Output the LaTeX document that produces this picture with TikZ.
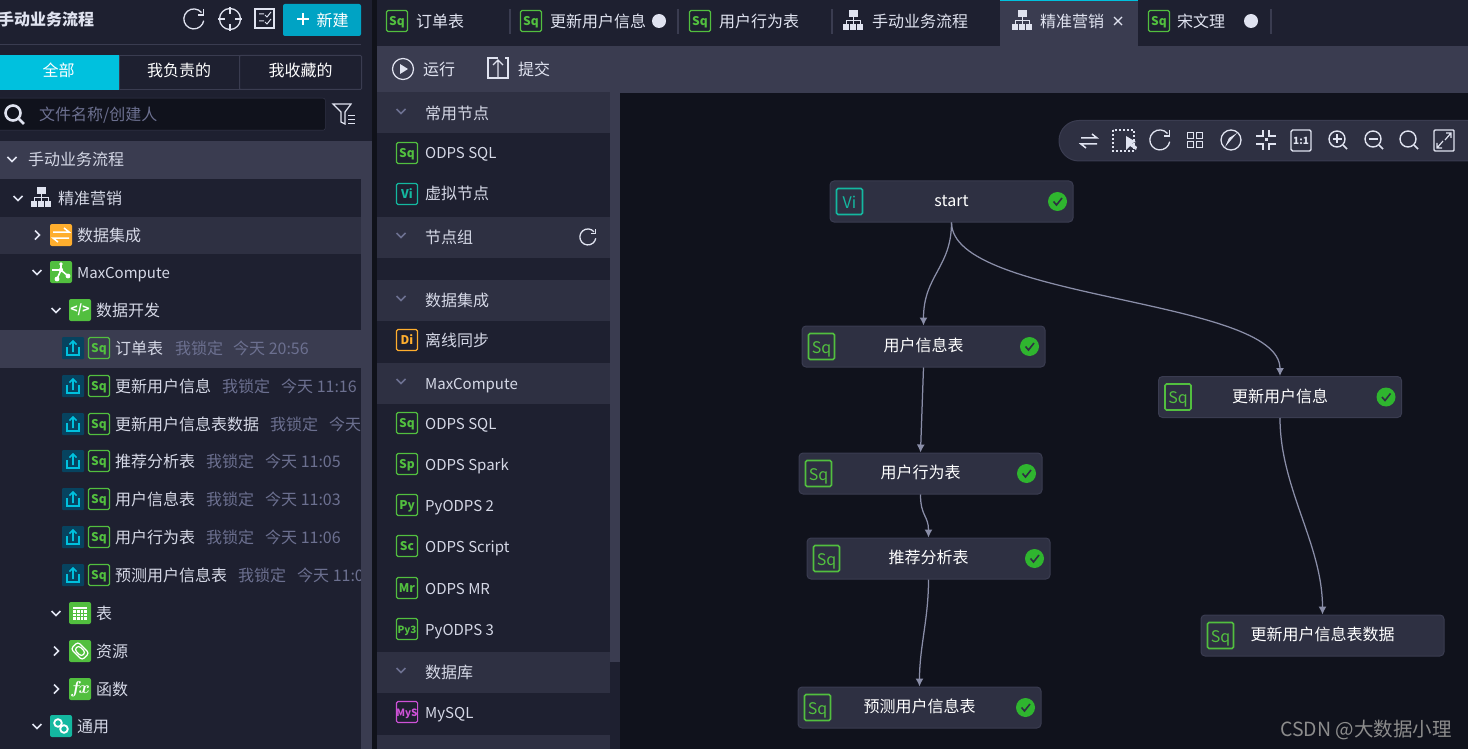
\documentclass[tikz,border=0pt]{standalone}
\usepackage{fontspec}
\setmainfont{Noto Sans CJK SC}
\usetikzlibrary{positioning, arrows.meta}
\definecolor{panelbg}{HTML}{1E2030}
\definecolor{rowbg}{HTML}{2E3042}
\definecolor{barbg}{HTML}{3A3C50}
\definecolor{canvasbg}{HTML}{10121C}
\definecolor{gapbg}{HTML}{10121A}
\definecolor{tabcyan}{HTML}{00C1DE}
\definecolor{btnblue}{HTML}{00A3C4}
\definecolor{iconfg}{HTML}{E0E3F0}
\definecolor{labelfg}{HTML}{D5D8E6}
\definecolor{lockfg}{HTML}{6C7090}
\definecolor{sqgreen}{HTML}{52BF3F}
\definecolor{viteal}{HTML}{14B8A0}
\definecolor{diorange}{HTML}{FFAE2E}
\definecolor{mymagenta}{HTML}{CF52D8}
\definecolor{donegreen}{HTML}{2FB52F}
\definecolor{linkfg}{HTML}{8A8EA8}
\definecolor{upbg}{HTML}{07435F}
\tikzset{
  treelabel/.style={anchor=west, inner sep=0pt, text=labelfg, text height=13pt, text depth=1pt},
  locklabel/.style={anchor=west, inner sep=0pt, text=lockfg, text height=13pt, text depth=1pt},
  tablabel/.style={anchor=west, inner sep=0pt, text=iconfg, text height=14pt, text depth=0pt},
  typeicon/.style={draw=#1, text=#1, line width=1.2pt, rounded corners=1.5pt, minimum size=21pt, inner sep=0pt,
    text height=9pt, text depth=0pt, font=\fontsize{12}{12}\selectfont\bfseries},
  largeicon/.style={line width=1.6pt, minimum size=26pt, text height=13pt, font=\fontsize{16}{16}\selectfont},
  flowbox/.style={draw=barbg, fill=rowbg, rounded corners=4pt, line width=1pt, minimum width=243pt, minimum height=41pt,
    inner sep=0pt, text=white, text height=13pt, text depth=3pt, font=\fontsize{16}{16}\selectfont},
  donemark/.style={circle, fill=donegreen, minimum size=19pt, inner sep=0pt},
  flowline/.style={draw=linkfg, line width=1.25pt, -{Latex[length=8pt,width=8pt]}},
  squarebadge/.style={fill=#1, rounded corners=2pt, minimum size=22pt, inner sep=0pt},
  upbadge/.style={fill=upbg, rounded corners=1pt, minimum size=22pt, inner sep=0pt},
  tabbtn/.style={draw=barbg, line width=1pt, inner sep=0pt, text=white, minimum height=34pt, text height=13pt, text depth=5pt},
  sepline/.style={draw=barbg, line width=1.2pt},
  pics/chevdown/.style={code={\draw[line width=1.5pt] (-4.5,-2) -- (0,2.5) -- (4.5,-2);}},
  pics/chevright/.style={code={\draw[line width=1.5pt] (-2,-4.5) -- (2.5,0) -- (-2,4.5);}},
  pics/refreshpic/.style={code={
    \draw[line width=1.3pt] (7.5,-6.5) arc (-40:-350:10);
    \draw[line width=1.3pt] (9.5,-10) -- (9.5,-4) -- (3.5,-4);}},
  pics/hierpic/.style={code={
    \fill (-4.5,-10) rectangle (4.5,-3);
    \fill (-10,4) rectangle (-4,10); \fill (-3,4) rectangle (3,10); \fill (4,4) rectangle (10,10);
    \draw[line width=1pt] (0,-3) -- (0,4) (-7,4) -- (-7,1) -- (7,1) -- (7,4);}},
  pics/uppic/.style={code={
    \draw[line width=1.6pt] (-6,-1) -- (-6,7) -- (6,7) -- (6,-1);
    \draw[line width=1.6pt] (0,4) -- (0,-7) (-3.5,-3.5) -- (0,-7) -- (3.5,-3.5);}},
  pics/tickpic/.style={code={\draw[line width=1.6pt] (-4,0) -- (-1,3.5) -- (4.5,-3.5);}},
  pics/swappic/.style={code={
    \draw[line width=1.5pt] (-8,-3) -- (8,-3) -- (3,-7);
    \draw[line width=1.5pt] (8,3) -- (-8,3) -- (-3,7);}},
  pics/lenspic/.style={code={
    \draw[line width=1.4pt] (-1,-1) circle (8);
    \draw[line width=1.6pt] (5,5) -- (9,9);}},
}
% latin text is set a little smaller than the chinese
\newcommand{\latintext}[1]{{\fontsize{15}{15}\selectfont #1}}
% one node of the flow with its type icon
\newcommand{\flownode}[6]{
  \node[flowbox] (#1) at (#2,#3) {#6};
  \node[typeicon=#4, largeicon] (#1-icon) at ([xshift=20pt]#1.west) {#5};
}
\newcommand{\flowdone}[1]{
  \node[donemark] (#1-done) at ([xshift=-16pt]#1.east) {};
  \pic[color=rowbg] at (#1-done) {tickpic};
}
\begin{document}
\begin{tikzpicture}[x=1pt, y=-1pt, font=\fontsize{16}{16}\selectfont]
\useasboundingbox (0,0) rectangle (1468,749);
% backgrounds
\fill[panelbg] (0,0) rectangle (372,749);
\fill[gapbg] (372,0) rectangle (377,749);
\fill[panelbg] (377,0) rectangle (1468,46);
\fill[barbg] (377,46) rectangle (1468,93);
\fill[panelbg] (377,93) rectangle (610,749);
\fill[barbg] (610,93) rectangle (620,662);
\fill[panelbg] (610,662) rectangle (620,749);
\fill[canvasbg] (620,93) rectangle (1468,749);
\draw[barbg, line width=1pt] (0,45) -- (361,45);
% left header
\node[tablabel, font=\fontsize{16}{16}\selectfont\bfseries] (flowtitle) at (-2,19) {手动业务流程};
\pic[color=iconfg, scale=1] at (194,19) {refreshpic};
\draw[iconfg, line width=1.3pt] (230,19) circle (10.5);
\draw[iconfg, line width=1.3pt] (230,7) -- (230,14) (230,24) -- (230,31) (218,19) -- (225,19) (235,19) -- (242,19);
\draw[iconfg, line width=1.3pt] (255,9) rectangle (274,28);
\draw[iconfg, line width=1pt] (259,14) -- (264,14) (259,21) -- (264,21) (265,15) -- (267,17) -- (271,12) (265,22) -- (267,24) -- (271,19);
\node[fill=btnblue, rounded corners=2pt, minimum width=78pt, minimum height=32pt, inner sep=0pt, text=white, text height=14pt, text depth=0pt] (newbtn) at (322,20) {\hspace*{21pt}新建};
\draw[white, line width=2pt] (297,19.5) -- (309,19.5) (303,13.5) -- (303,25.5);
% scope tabs
\node[tabbtn, fill=tabcyan, draw=tabcyan, minimum width=122pt, anchor=north west] (taball) at (-3,55) {全部};
\node[tabbtn, minimum width=120pt, anchor=north west] (tabmine) at (118.5,55) {我负责的};
\node[tabbtn, minimum width=122pt, anchor=north west, rounded corners=1pt] (tabfav) at (239,55) {我收藏的};
% search
\node[fill=canvasbg, draw=barbg, rounded corners=2pt, minimum width=327pt, minimum height=32pt, inner sep=0pt, anchor=north west] (searchbox) at (-2,98) {};
\node[locklabel] (searchtext) at (39,114.7) {文件名称/创建人};
\draw[iconfg, line width=2.6pt] (13,113) circle (7.5);
\draw[iconfg, line width=2.6pt] (19,119) -- (24,124);
\draw[iconfg, line width=1.2pt] (333,104) -- (351,104) -- (345,112) -- (345,124) -- (341,122) -- (341,112) -- cycle;
\draw[iconfg, line width=1pt] (348,116) -- (355,116) (348,120) -- (355,120) (348,124) -- (355,124);
% tree
\fill[barbg] (0,141) rectangle (372,179);
\fill[rowbg] (0,217) rectangle (361,254);
\fill[barbg] (0,330) rectangle (361,368);
\pic[color=iconfg] at (12,159) {chevdown};
\node[treelabel] (treeflow) at (28,159.8) {手动业务流程};
\pic[color=iconfg] at (18,198) {chevdown};
\pic[color=iconfg, scale=1] at (41,197) {hierpic};
\node[treelabel] (treeyx) at (58,198.6) {精准营销};
\pic[color=iconfg] at (37,235) {chevright};
\node[squarebadge=diorange] (badgedi) at (61,235) {};
\pic[color=white] at (badgedi) {swappic};
\node[treelabel] (treedi) at (77,235.5) {数据集成};
\pic[color=iconfg] at (37,272) {chevdown};
\node[squarebadge=sqgreen] (badgemc) at (61,272) {};
\draw[white, line width=1.6pt] (57,279) -- (61,270) -- (68,276) (61,270) -- (61,264) (52,270) -- (61,270);
\fill[white] (57,279) circle (2.4) (61,270) circle (2.2) (68,276) circle (2.4) (61,264) circle (1.8);
\node[treelabel] (treemc) at (77,272) {\latintext{MaxCompute}};
\pic[color=iconfg] at (56,310) {chevdown};
\node[squarebadge=sqgreen, text=white, font=\fontsize{12}{12}\selectfont\bfseries] (badgedev) at (80,310) {</>};
\node[treelabel] (treedev) at (96,310) {数据开发};
\begin{scope}
\clip (0,330) rectangle (361,600);
\foreach \rowy/\rowname/\lockx/\whenx/\whentext in {348/订单表/175/233/今天 20:56,386/更新用户信息/222/281/今天 11:16,424/更新用户信息表数据/270/329/今天,461/推荐分析表/206/265/今天 11:05,499/用户信息表/206/265/今天 11:03,537/用户行为表/206/265/今天 11:06,575/预测用户信息表/238/297/今天 11:04}{
  \node[upbadge] (up\rowy) at (73,\rowy) {};
  \pic[color=tabcyan] at (up\rowy) {uppic};
  \node[typeicon=sqgreen] (sq\rowy) at (99,\rowy) {Sq};
  \node[treelabel] (row\rowy) at (115,\rowy) {\rowname};
  \node[locklabel] (lock\rowy) at (\lockx,\rowy) {我锁定};
  \node[locklabel] (when\rowy) at (\whenx,\rowy) {\whentext};
}
\end{scope}
\pic[color=iconfg] at (56,613) {chevdown};
\node[squarebadge=sqgreen] (badgetb) at (80,613) {};
\fill[white] (73,606.5) rectangle (87,620);
\foreach \gx in {76.5,80,83.5}
  \draw[sqgreen, line width=.9pt] (\gx,609) -- (\gx,620);
\foreach \gy in {609.5,613,616.5}
  \draw[sqgreen, line width=.9pt] (73,\gy) -- (87,\gy);
\node[treelabel] (treetb) at (96,613) {表};
\pic[color=iconfg] at (56,651) {chevright};
\node[squarebadge=sqgreen] (badgeres) at (80,651) {};
\draw[white, line width=1.2pt, rotate around={-45:(80,651)}, rounded corners=3pt] (75,648) rectangle (85,654) (72,646) rectangle (88,656);
\node[treelabel] (treeres) at (96,651) {资源};
\pic[color=iconfg] at (56,689) {chevright};
\node[squarebadge=sqgreen, text=white, font=\fontsize{17}{17}\selectfont\boldmath] (badgefx) at (80,689) {$f\!x$};
\node[treelabel] (treefx) at (96,689) {函数};
\pic[color=iconfg] at (37,726) {chevdown};
\node[squarebadge=viteal] (badgecm) at (61,726) {};
\draw[white, line width=1.8pt] (58,723) circle (3.8) (64,729) circle (3.8);
\node[treelabel] (treecm) at (77,726) {通用};
\fill[barbg] (361,179) rectangle (372,749);
% top tabs
\fill[barbg] (1000,0) rectangle (1138,46);
\fill[tabcyan] (1000,0) rectangle (1138,1.2);
\node[typeicon=sqgreen] (tabsq1) at (397,21) {Sq};
\node[tablabel] (tabt1) at (416,21) {订单表};
\draw[sepline] (510,9) -- (510,34);
\node[typeicon=sqgreen] (tabsq2) at (531,21) {Sq};
\node[tablabel] (tabt2) at (550,21) {更新用户信息};
\fill[iconfg] (659,21) circle (7);
\draw[sepline] (678,9) -- (678,34);
\node[typeicon=sqgreen] (tabsq3) at (700,21) {Sq};
\node[tablabel] (tabt3) at (719,21) {用户行为表};
\draw[sepline] (832,9) -- (832,34);
\pic[color=iconfg] at (853,20) {hierpic};
\node[tablabel] (tabt4) at (872,21) {手动业务流程};
\pic[color=iconfg] at (1022,20) {hierpic};
\node[tablabel] (tabt5) at (1040,21) {精准营销};
\draw[iconfg, line width=1.1pt] (1114,17) -- (1122,25) (1122,17) -- (1114,25);
\node[typeicon=sqgreen] (tabsq6) at (1159,21) {Sq};
\node[tablabel] (tabt6) at (1177,21) {宋文理};
\fill[iconfg] (1251,21) circle (7);
\draw[sepline] (1271,9) -- (1271,34);
% run bar
\draw[iconfg, line width=1.2pt] (403,69) circle (10.5);
\fill[iconfg] (400,64) -- (408,69) -- (400,74) -- cycle;
\node[tablabel] (runlabel) at (423,69) {运行};
\draw[iconfg, line width=1.2pt] (498,58) -- (488,58) -- (488,78) -- (508,78) -- (508,58) -- (505,58);
\draw[iconfg, line width=1.2pt] (498,77) -- (498,60) (493,65) -- (498,60) -- (503,65);
\node[tablabel] (submitlabel) at (518,69) {提交};
% node list
\foreach \heady/\headname in {113/常用节点,237/节点组,300/数据集成,383/\latintext{MaxCompute},672/数据库,755/}{
  \fill[rowbg] (377,\heady-20.5) rectangle (610,\heady+20.5);
  \node[treelabel, yshift=-.7pt] (head\heady) at (425,\heady) {\headname};
  \pic[color=lockfg] at (401,\heady-2) {chevdown};
}
\foreach \itemy/\itemcolor/\itemtype/\itemname in {153/sqgreen/Sq/\latintext{ODPS SQL},194/viteal/Vi/虚拟节点,340/diorange/Di/离线同步,423/sqgreen/Sq/\latintext{ODPS SQL},464/sqgreen/Sp/\latintext{ODPS Spark},505/sqgreen/Py/\latintext{PyODPS 2},546/sqgreen/Sc/\latintext{ODPS Script},588/sqgreen/Mr/\latintext{ODPS MR},629/sqgreen/\fontsize{10}{10}\selectfont Py3/\latintext{PyODPS 3},712/mymagenta/\fontsize{10}{10}\selectfont MyS/\latintext{MySQL}}{
  \node[typeicon=\itemcolor] (type\itemy) at (407,\itemy) {\itemtype};
  \node[treelabel] (item\itemy) at (425,\itemy) {\itemname};
}
\pic[color=iconfg, scale=.8] at (588,237) {refreshpic};
% canvas toolbar
\fill[rowbg, rounded corners=20pt] (1059,120.5) rectangle (1520,161);
\draw[barbg, line width=1pt, rounded corners=20pt] (1059,120.5) rectangle (1520,161);
\pic[color=iconfg] at (1089,141) {swappic};
\draw[iconfg, line width=1.2pt, dash pattern=on 2pt off 2pt] (1113,130) rectangle (1134,151);
\fill[iconfg] (1126,136) -- (1126,150) -- (1130,146) -- (1136,150) -- (1137,147) -- (1132,143) -- (1136,142) -- cycle;
\pic[color=iconfg, scale=1] at (1160,140) {refreshpic};
\foreach \cx/\cy in {1190.5/135.5,1199.5/135.5,1190.5/144.5,1199.5/144.5}
  \draw[iconfg, line width=1.3pt] (\cx-2.8,\cy-2.8) rectangle (\cx+2.8,\cy+2.8);
\draw[iconfg, line width=1.3pt] (1231,140) circle (10);
\fill[iconfg] (1237,133) -- (1225,147) -- (1229,138) -- cycle;
\draw[iconfg, line width=1.4pt] (1256,136) -- (1263,136) -- (1263,130) (1276,136) -- (1269,136) -- (1269,130) (1256,144) -- (1263,144) -- (1263,150) (1276,144) -- (1269,144) -- (1269,150);
\fill[iconfg] (1264.5,138.5) rectangle (1267.5,141.5);
\draw[iconfg, line width=1.4pt, rounded corners=1.5pt] (1291,130) rectangle (1311,151);
\node[text=iconfg, inner sep=0pt, font=\fontsize{10}{10}\selectfont\bfseries] (zoomone) at (1301,140.5) {1:1};
\pic[color=iconfg, scale=1] at (1338,140) {lenspic};
\draw[iconfg, line width=1.3pt] (1332.5,139) -- (1341.5,139) (1337,134.5) -- (1337,143.5);
\pic[color=iconfg, scale=1] at (1374,140) {lenspic};
\draw[iconfg, line width=1.3pt] (1368.5,139) -- (1377.5,139);
\pic[color=iconfg, scale=1] at (1409,140) {lenspic};
\draw[iconfg, line width=1.4pt, rounded corners=1pt] (1434,130) rectangle (1454,151);
\draw[iconfg, line width=1.2pt] (1445,140) -- (1451,133) (1446,133) -- (1451,133) -- (1451,138) (1443,141) -- (1437,148) (1437,143) -- (1437,148) -- (1442,148);
% flow nodes
\flownode{start}{951.5}{201.5}{viteal}{Vi}{start}
\flownode{userinfo}{923.5}{346.5}{sqgreen}{Sq}{用户信息表}
\flownode{userupdate}{1280}{397}{sqgreen}{Sq}{更新用户信息}
\flownode{userbehav}{920.5}{473.5}{sqgreen}{Sq}{用户行为表}
\flownode{recommend}{928.5}{558.5}{sqgreen}{Sq}{推荐分析表}
\flownode{updatedata}{1322.5}{635.5}{sqgreen}{Sq}{更新用户信息表数据}
\flownode{predict}{919.5}{707.5}{sqgreen}{Sq}{预测用户信息表}
\flowdone{start}
\flowdone{userinfo}
\flowdone{userupdate}
\flowdone{userbehav}
\flowdone{recommend}
\flowdone{predict}
\draw[flowline] (start.south) .. controls +(0,45) and +(0,-50) .. (userinfo.north);
\draw[flowline] (start.south) .. controls +(0,78) and +(0,-78) .. (userupdate.north);
\draw[flowline] (userinfo.south) -- (userbehav.north);
\draw[flowline] (userbehav.south) .. controls +(0,22) and +(0,-22) .. (recommend.north);
\draw[flowline] (recommend.south) .. controls +(0,40) and +(0,-40) .. (predict.north);
\draw[flowline] (userupdate.south) .. controls +(0,70) and +(0,-70) .. (updatedata.north);
% watermark
\node[anchor=east, inner sep=0pt, text=black!45, font=\fontsize{19.5}{20}\selectfont] (watermark) at (1452,730) {CSDN @大数据小理};
\end{tikzpicture}
\end{document}
